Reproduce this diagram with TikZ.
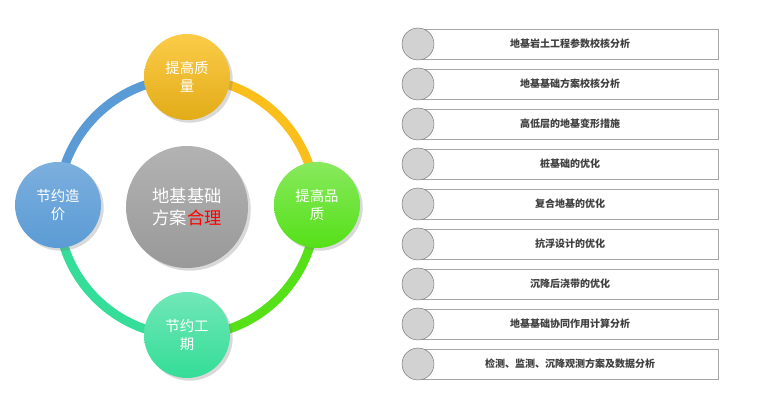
\documentclass[tikz,border=0pt]{standalone}
\usepackage{fontspec}
\setmainfont{Noto Sans CJK SC}
\usetikzlibrary{shadows}
\tikzset{font=\small}
\tikzstyle{hub}=[circle,minimum size=122pt,inner sep=0pt,text=white,font=\LARGE,align=center,drop shadow={opacity=0.3}]
\tikzstyle{goal}=[circle,minimum size=86pt,inner sep=0pt,text=white,font=\Large,align=center,drop shadow={opacity=0.3}]
\tikzstyle{bar}=[draw=gray!70,fill=white,minimum width=296pt,minimum height=30pt,inner sep=0pt,font=\normalsize\bfseries,text=black!75]
\tikzstyle{dot}=[circle,draw=gray!80!black,fill=gray!35,minimum size=32pt,inner sep=0pt]
\definecolor{ringblue}{HTML}{5B9BD5}
\definecolor{ringgold}{HTML}{FBBF1B}
\definecolor{ringgreen}{HTML}{55E018}
\definecolor{ringteal}{HTML}{34DD98}

\begin{document}
\begin{tikzpicture}[x=1pt,y=-1pt]
	\useasboundingbox (0,0) rectangle (760,409);
	% ring
	\draw[ringgold,line width=9pt] (187,207) ++(-90:129) arc (-90:0:129);
	\draw[ringgreen,line width=9pt] (187,207) ++(0:129) arc (0:90:129);
	\draw[ringteal,line width=9pt] (187,207) ++(90:129) arc (90:180:129);
	\draw[ringblue,line width=9pt] (187,207) ++(180:129) arc (180:270:129);
	% circles
	\node [hub,top color=gray!60,bottom color=gray!80] (hub) at (187,207) {地基基础\\方案\textcolor{red}{合理}};
	\node [goal,top color=ringgold!80!white,bottom color=ringgold!90!black] (q) at (187,77) {提高质\\量};
	\node [goal,top color=ringgreen!70!white,bottom color=ringgreen] (p) at (317,205) {提高品\\质};
	\node [goal,top color=ringteal!70!white,bottom color=ringteal] (t) at (187,335) {节约工\\期};
	\node [goal,top color=ringblue!80!white,bottom color=ringblue] (c) at (58,205) {节约造\\价};
	% list
	\foreach \txt [count=\i] in {地基岩土工程参数校核分析,地基基础方案校核分析,高低层的地基变形措施,桩基础的优化,复合地基的优化,抗浮设计的优化,沉降后浇带的优化,地基基础协同作用计算分析,检测、监测、沉降观测方案及数据分析}{
		\node [bar] (b\i) at (570,{44+40*(\i-1)}) {\txt};
		\node [dot] (d\i) at (418,{44+40*(\i-1)}) {};
	}
\end{tikzpicture}
\end{document}
